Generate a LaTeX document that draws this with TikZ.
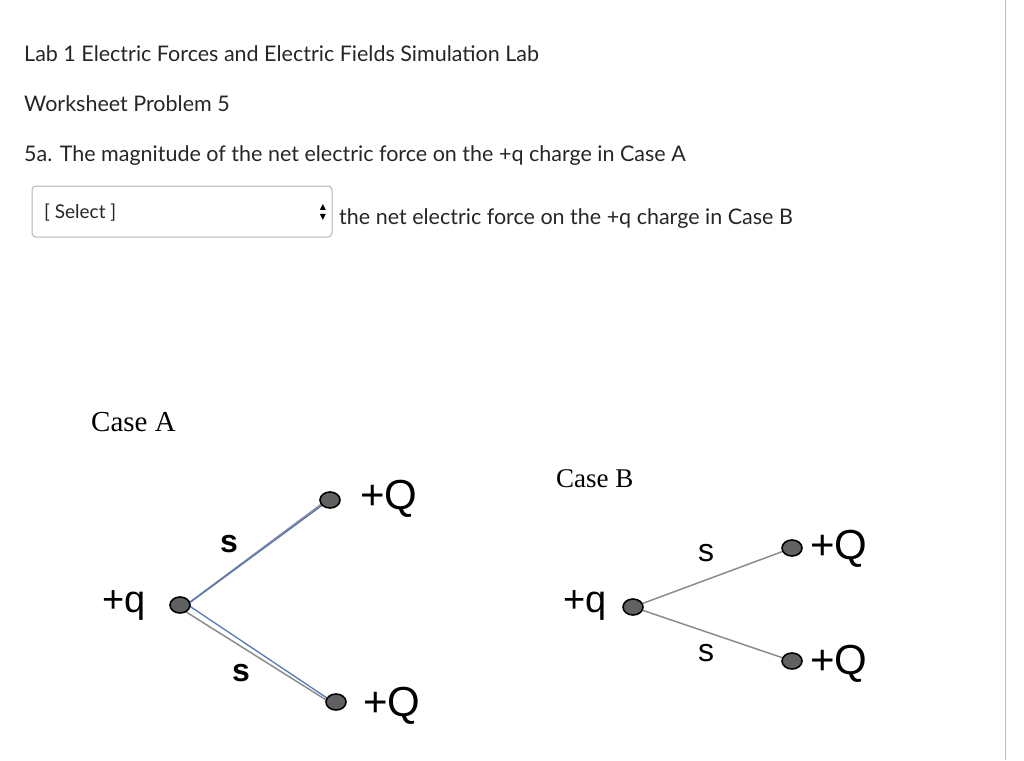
\documentclass[tikz,border=0pt]{standalone}
\usepackage{fontspec}
\usetikzlibrary{shapes.geometric}
\setmainfont{Lato}
\newfontfamily\serifA{Liberation Serif}
\newfontfamily\sansA{Liberation Sans}
\newfontfamily\symA{DejaVu Sans}
\definecolor{steelb}{RGB}{85,120,185}
\begin{document}
\begin{tikzpicture}[x=1pt,y=-1pt,
  txt/.style={anchor=base west,inner sep=0,font=\fontsize{21.5}{25}\selectfont,text=black!85},
  chg/.style={ellipse,draw=black,fill=black!62,line width=1.6pt,minimum width=20pt,minimum height=16pt,inner sep=0},
  lab/.style={font=\sansA\fontsize{38}{42}\selectfont,inner sep=0},
  labQ/.style={font=\sansA\fontsize{42}{46}\selectfont,inner sep=0,anchor=west},
  slab/.style={font=\sansA\bfseries\fontsize{32}{36}\selectfont,inner sep=0},
  rod/.style={draw=black!45,line width=1.5pt},
  blu/.style={draw=steelb,line width=1.3pt}]
\useasboundingbox (0,0) rectangle (1024,760);
\draw[black!25,line width=1pt] (1005,0) -- (1005,760);
\node[txt] (t1) at (24,62) {Lab 1 Electric Forces and Electric Fields Simulation Lab};
\node[txt] (t2) at (24,111) {Worksheet Problem 5};
\node[txt] (t3) at (24,161) {5a. The magnitude of the net electric force on the +q charge in Case A};
\draw[black!30,rounded corners=4pt,line width=1pt] (32,186) rectangle (332,237);
\node[txt,font=\fontsize{19}{22}\selectfont] (sel) at (44,218) {[ Select ]};
\node[inner sep=0,font=\symA\fontsize{8}{8}\selectfont] (up) at (323,207) {▲};
\node[inner sep=0,font=\symA\fontsize{8}{8}\selectfont] (dn) at (323,217) {▼};
\node[txt] (t4) at (339,224) {the net electric force on the +q charge in Case B};
% Case A
\node[anchor=base west,inner sep=0,font=\serifA\fontsize{29}{32}\selectfont] (ca) at (91,431) {Case A};
\coordinate (aqc) at (186,605);
\coordinate (aQ1c) at (327,500);
\coordinate (aQ2c) at (333,702);
\draw[rod] (aqc) -- (aQ1c);
\draw[blu] ([shift={(2,-1)}]aqc) -- ([shift={(1,1)}]aQ1c);
\draw[rod] ([shift={(-3,5)}]aqc) -- ([shift={(-2,1)}]aQ2c);
\draw[blu] ([shift={(2,0)}]aqc) -- (aQ2c);
\node[chg] (aq) at (180,605) {};
\node[chg] (aQ1) at (330,500) {};
\node[chg] (aQ2) at (336,702) {};
\node[lab] (aql) at (124,605) {+q};
\node[labQ] (aQ1l) at (360,499) {+Q};
\node[labQ] (aQ2l) at (363,706) {+Q};
\node[slab] (as1) at (229,544) {s};
\node[slab] (as2) at (241,673) {s};
% Case B
\node[anchor=base west,inner sep=0,font=\serifA\fontsize{27}{30}\selectfont] (cb) at (556,487) {Case B};
\node[chg] (bq) at (633,607) {};
\node[chg] (bQ1) at (792,548) {};
\node[chg] (bQ2) at (792,661) {};
\draw[rod] (bq) -- (bQ1);
\draw[rod] (bq) -- (bQ2);
\node[lab] (bql) at (585,605) {+q};
\node[labQ] (bQ1l) at (810,549) {+Q};
\node[labQ] (bQ2l) at (810,664) {+Q};
\node[lab,font=\sansA\fontsize{32}{36}\selectfont] (bs1) at (706,553) {s};
\node[lab,font=\sansA\fontsize{32}{36}\selectfont] (bs2) at (706,653) {s};
\end{tikzpicture}
\end{document}
